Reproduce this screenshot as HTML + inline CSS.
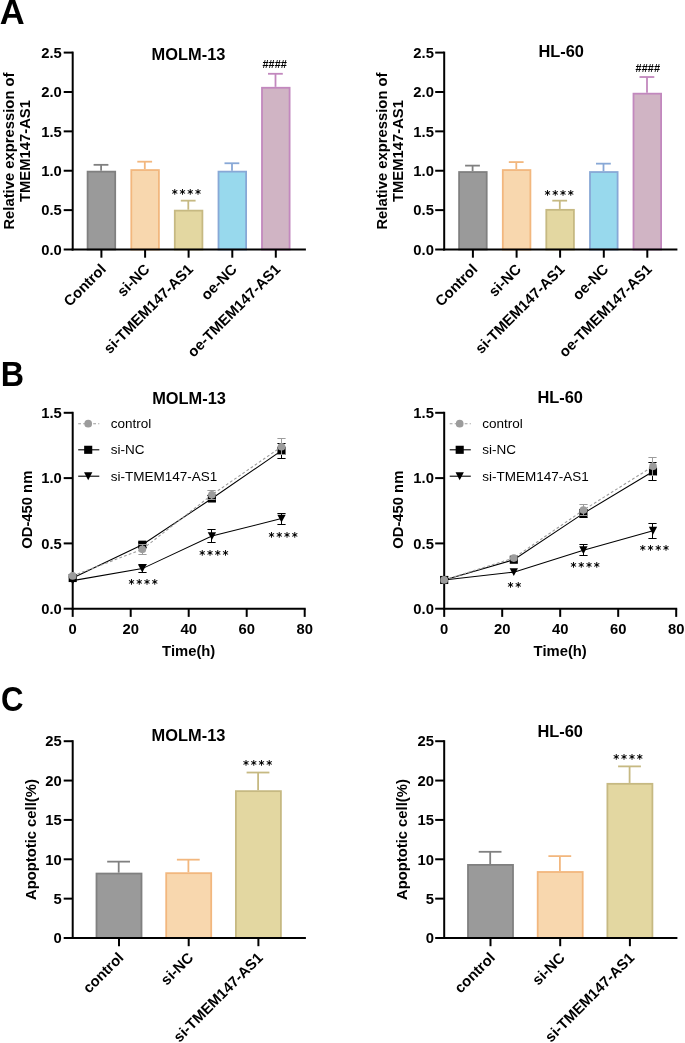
<!DOCTYPE html>
<html lang="en"><head><meta charset="utf-8"><title>Figure</title>
<style>html,body{margin:0;padding:0;background:#fff}svg{display:block}</style></head>
<body>
<svg width="685" height="1043" viewBox="0 0 685 1043" font-family='"Liberation Sans", Arial, Helvetica, sans-serif' fill="#000">
<rect width="685" height="1043" fill="#fff"/>
<text font-size="34.5" font-weight="bold" transform="translate(-0.13 23.8) scale(1.0 1)">A</text>
<text font-size="34.5" font-weight="bold" transform="translate(0.71 385.7) scale(0.935 1)">B</text>
<text font-size="35.2" font-weight="bold" transform="translate(0.88 711.2) scale(0.885 1)">C</text>
<g transform="translate(0.00 0)">
<line x1="101.10" y1="170.74" x2="101.10" y2="164.83" stroke="#808080" stroke-width="1.8"/>
<line x1="93.60" y1="164.83" x2="108.40" y2="164.83" stroke="#808080" stroke-width="1.8"/>
<rect x="87.60" y="171.64" width="27.60" height="77.86" fill="#9a9a9a" stroke="#808080" stroke-width="1.8"/>
<line x1="144.80" y1="169.16" x2="144.80" y2="161.68" stroke="#f2b77e" stroke-width="1.8"/>
<line x1="137.30" y1="161.68" x2="152.10" y2="161.68" stroke="#f2b77e" stroke-width="1.8"/>
<rect x="131.30" y="170.06" width="27.60" height="79.44" fill="#f8d7ae" stroke="#f2b77e" stroke-width="1.8"/>
<line x1="188.30" y1="209.73" x2="188.30" y2="200.67" stroke="#c6b982" stroke-width="1.8"/>
<line x1="180.80" y1="200.67" x2="195.60" y2="200.67" stroke="#c6b982" stroke-width="1.8"/>
<rect x="174.80" y="210.63" width="27.60" height="38.87" fill="#e3d7a1" stroke="#c6b982" stroke-width="1.8"/>
<line x1="232.00" y1="170.74" x2="232.00" y2="163.26" stroke="#88a8d6" stroke-width="1.8"/>
<line x1="224.50" y1="163.26" x2="239.30" y2="163.26" stroke="#88a8d6" stroke-width="1.8"/>
<rect x="218.50" y="171.64" width="27.60" height="77.86" fill="#98d9ed" stroke="#88a8d6" stroke-width="1.8"/>
<line x1="275.50" y1="86.86" x2="275.50" y2="73.79" stroke="#c288be" stroke-width="1.8"/>
<line x1="268.00" y1="73.79" x2="282.80" y2="73.79" stroke="#c288be" stroke-width="1.8"/>
<rect x="262.00" y="87.76" width="27.60" height="161.74" fill="#d0b4c4" stroke="#c288be" stroke-width="1.8"/>
<line x1="72.70" y1="51.60" x2="72.70" y2="250.50" stroke="#000" stroke-width="2"/>
<line x1="71.70" y1="249.50" x2="305.90" y2="249.50" stroke="#000" stroke-width="2"/>
<line x1="63.70" y1="249.50" x2="72.70" y2="249.50" stroke="#000" stroke-width="2"/>
<text x="61.80" y="254.75" font-size="14.8" font-weight="bold" text-anchor="end">0.0</text>
<line x1="63.70" y1="210.12" x2="72.70" y2="210.12" stroke="#000" stroke-width="2"/>
<text x="61.80" y="215.37" font-size="14.8" font-weight="bold" text-anchor="end">0.5</text>
<line x1="63.70" y1="170.74" x2="72.70" y2="170.74" stroke="#000" stroke-width="2"/>
<text x="61.80" y="175.99" font-size="14.8" font-weight="bold" text-anchor="end">1.0</text>
<line x1="63.70" y1="131.36" x2="72.70" y2="131.36" stroke="#000" stroke-width="2"/>
<text x="61.80" y="136.61" font-size="14.8" font-weight="bold" text-anchor="end">1.5</text>
<line x1="63.70" y1="91.98" x2="72.70" y2="91.98" stroke="#000" stroke-width="2"/>
<text x="61.80" y="97.23" font-size="14.8" font-weight="bold" text-anchor="end">2.0</text>
<line x1="63.70" y1="52.60" x2="72.70" y2="52.60" stroke="#000" stroke-width="2"/>
<text x="61.80" y="57.85" font-size="14.8" font-weight="bold" text-anchor="end">2.5</text>
<line x1="101.40" y1="249.50" x2="101.40" y2="257.70" stroke="#000" stroke-width="2"/>
<text x="106.90" y="270.10" font-size="14.8" font-weight="bold" text-anchor="end" transform="rotate(-45 106.90 270.10)">Control</text>
<line x1="145.10" y1="249.50" x2="145.10" y2="257.70" stroke="#000" stroke-width="2"/>
<text x="150.60" y="270.10" font-size="14.8" font-weight="bold" text-anchor="end" transform="rotate(-45 150.60 270.10)">si-NC</text>
<line x1="188.60" y1="249.50" x2="188.60" y2="257.70" stroke="#000" stroke-width="2"/>
<text x="194.10" y="270.10" font-size="14.8" font-weight="bold" text-anchor="end" transform="rotate(-45 194.10 270.10)">si-TMEM147-AS1</text>
<line x1="232.30" y1="249.50" x2="232.30" y2="257.70" stroke="#000" stroke-width="2"/>
<text x="237.80" y="270.10" font-size="14.8" font-weight="bold" text-anchor="end" transform="rotate(-45 237.80 270.10)">oe-NC</text>
<line x1="275.80" y1="249.50" x2="275.80" y2="257.70" stroke="#000" stroke-width="2"/>
<text x="281.30" y="270.10" font-size="14.8" font-weight="bold" text-anchor="end" transform="rotate(-45 281.30 270.10)">oe-TMEM147-AS1</text>
<text x="188.50" y="60.20" font-size="16.4" font-weight="bold" text-anchor="middle">MOLM-13</text>
<text font-size="14.8" font-weight="bold" text-anchor="middle" transform="translate(13.50 151.05) rotate(-90)"><tspan x="0" y="0">Relative expression of</tspan><tspan x="0" y="16.5">TMEM147-AS1</tspan></text>
<text x="171.74" y="198.27" font-family='"DejaVu Sans", "Liberation Sans", sans-serif' font-size="11.5" font-weight="bold" text-anchor="start" letter-spacing="1.76">****</text>
<text x="274.70" y="68.40" font-size="11" font-weight="bold" text-anchor="middle">####</text>
</g>
<g transform="translate(371.50 0)">
<line x1="101.10" y1="171.13" x2="101.10" y2="165.62" stroke="#808080" stroke-width="1.8"/>
<line x1="93.60" y1="165.62" x2="108.40" y2="165.62" stroke="#808080" stroke-width="1.8"/>
<rect x="87.60" y="172.03" width="27.60" height="77.47" fill="#9a9a9a" stroke="#808080" stroke-width="1.8"/>
<line x1="144.80" y1="169.16" x2="144.80" y2="162.08" stroke="#f2b77e" stroke-width="1.8"/>
<line x1="137.30" y1="162.08" x2="152.10" y2="162.08" stroke="#f2b77e" stroke-width="1.8"/>
<rect x="131.30" y="170.06" width="27.60" height="79.44" fill="#f8d7ae" stroke="#f2b77e" stroke-width="1.8"/>
<line x1="188.30" y1="208.94" x2="188.30" y2="200.67" stroke="#c6b982" stroke-width="1.8"/>
<line x1="180.80" y1="200.67" x2="195.60" y2="200.67" stroke="#c6b982" stroke-width="1.8"/>
<rect x="174.80" y="209.84" width="27.60" height="39.66" fill="#e3d7a1" stroke="#c6b982" stroke-width="1.8"/>
<line x1="232.00" y1="171.13" x2="232.00" y2="163.65" stroke="#88a8d6" stroke-width="1.8"/>
<line x1="224.50" y1="163.65" x2="239.30" y2="163.65" stroke="#88a8d6" stroke-width="1.8"/>
<rect x="218.50" y="172.03" width="27.60" height="77.47" fill="#98d9ed" stroke="#88a8d6" stroke-width="1.8"/>
<line x1="275.50" y1="92.77" x2="275.50" y2="77.02" stroke="#c288be" stroke-width="1.8"/>
<line x1="268.00" y1="77.02" x2="282.80" y2="77.02" stroke="#c288be" stroke-width="1.8"/>
<rect x="262.00" y="93.67" width="27.60" height="155.83" fill="#d0b4c4" stroke="#c288be" stroke-width="1.8"/>
<line x1="72.70" y1="51.60" x2="72.70" y2="250.50" stroke="#000" stroke-width="2"/>
<line x1="71.70" y1="249.50" x2="305.90" y2="249.50" stroke="#000" stroke-width="2"/>
<line x1="63.70" y1="249.50" x2="72.70" y2="249.50" stroke="#000" stroke-width="2"/>
<text x="62.40" y="254.75" font-size="14.8" font-weight="bold" text-anchor="end">0.0</text>
<line x1="63.70" y1="210.12" x2="72.70" y2="210.12" stroke="#000" stroke-width="2"/>
<text x="62.40" y="215.37" font-size="14.8" font-weight="bold" text-anchor="end">0.5</text>
<line x1="63.70" y1="170.74" x2="72.70" y2="170.74" stroke="#000" stroke-width="2"/>
<text x="62.40" y="175.99" font-size="14.8" font-weight="bold" text-anchor="end">1.0</text>
<line x1="63.70" y1="131.36" x2="72.70" y2="131.36" stroke="#000" stroke-width="2"/>
<text x="62.40" y="136.61" font-size="14.8" font-weight="bold" text-anchor="end">1.5</text>
<line x1="63.70" y1="91.98" x2="72.70" y2="91.98" stroke="#000" stroke-width="2"/>
<text x="62.40" y="97.23" font-size="14.8" font-weight="bold" text-anchor="end">2.0</text>
<line x1="63.70" y1="52.60" x2="72.70" y2="52.60" stroke="#000" stroke-width="2"/>
<text x="62.40" y="57.85" font-size="14.8" font-weight="bold" text-anchor="end">2.5</text>
<line x1="101.40" y1="249.50" x2="101.40" y2="257.70" stroke="#000" stroke-width="2"/>
<text x="106.90" y="270.10" font-size="14.8" font-weight="bold" text-anchor="end" transform="rotate(-45 106.90 270.10)">Control</text>
<line x1="145.10" y1="249.50" x2="145.10" y2="257.70" stroke="#000" stroke-width="2"/>
<text x="150.60" y="270.10" font-size="14.8" font-weight="bold" text-anchor="end" transform="rotate(-45 150.60 270.10)">si-NC</text>
<line x1="188.60" y1="249.50" x2="188.60" y2="257.70" stroke="#000" stroke-width="2"/>
<text x="194.10" y="270.10" font-size="14.8" font-weight="bold" text-anchor="end" transform="rotate(-45 194.10 270.10)">si-TMEM147-AS1</text>
<line x1="232.30" y1="249.50" x2="232.30" y2="257.70" stroke="#000" stroke-width="2"/>
<text x="237.80" y="270.10" font-size="14.8" font-weight="bold" text-anchor="end" transform="rotate(-45 237.80 270.10)">oe-NC</text>
<line x1="275.80" y1="249.50" x2="275.80" y2="257.70" stroke="#000" stroke-width="2"/>
<text x="281.30" y="270.10" font-size="14.8" font-weight="bold" text-anchor="end" transform="rotate(-45 281.30 270.10)">oe-TMEM147-AS1</text>
<text x="189.70" y="57.30" font-size="16.4" font-weight="bold" text-anchor="middle">HL-60</text>
<text font-size="14.8" font-weight="bold" text-anchor="middle" transform="translate(15.00 151.05) rotate(-90)"><tspan x="0" y="0">Relative expression of</tspan><tspan x="0" y="16.5">TMEM147-AS1</tspan></text>
<text x="172.94" y="199.27" font-family='"DejaVu Sans", "Liberation Sans", sans-serif' font-size="11.5" font-weight="bold" text-anchor="start" letter-spacing="1.76">****</text>
<text x="276.30" y="72.40" font-size="11" font-weight="bold" text-anchor="middle">####</text>
</g>
<g transform="translate(0.00 0)">
<line x1="72.70" y1="411.80" x2="72.70" y2="609.70" stroke="#000" stroke-width="2"/>
<line x1="71.70" y1="608.70" x2="305.70" y2="608.70" stroke="#000" stroke-width="2"/>
<line x1="63.70" y1="608.70" x2="72.70" y2="608.70" stroke="#000" stroke-width="2"/>
<text x="61.80" y="613.95" font-size="14.8" font-weight="bold" text-anchor="end">0.0</text>
<line x1="63.70" y1="543.40" x2="72.70" y2="543.40" stroke="#000" stroke-width="2"/>
<text x="61.80" y="548.65" font-size="14.8" font-weight="bold" text-anchor="end">0.5</text>
<line x1="63.70" y1="478.10" x2="72.70" y2="478.10" stroke="#000" stroke-width="2"/>
<text x="61.80" y="483.35" font-size="14.8" font-weight="bold" text-anchor="end">1.0</text>
<line x1="63.70" y1="412.80" x2="72.70" y2="412.80" stroke="#000" stroke-width="2"/>
<text x="61.80" y="418.05" font-size="14.8" font-weight="bold" text-anchor="end">1.5</text>
<line x1="72.70" y1="608.70" x2="72.70" y2="616.90" stroke="#000" stroke-width="2"/>
<text x="72.70" y="633.50" font-size="14.8" font-weight="bold" text-anchor="middle">0</text>
<line x1="130.70" y1="608.70" x2="130.70" y2="616.90" stroke="#000" stroke-width="2"/>
<text x="130.70" y="633.50" font-size="14.8" font-weight="bold" text-anchor="middle">20</text>
<line x1="188.70" y1="608.70" x2="188.70" y2="616.90" stroke="#000" stroke-width="2"/>
<text x="188.70" y="633.50" font-size="14.8" font-weight="bold" text-anchor="middle">40</text>
<line x1="246.70" y1="608.70" x2="246.70" y2="616.90" stroke="#000" stroke-width="2"/>
<text x="246.70" y="633.50" font-size="14.8" font-weight="bold" text-anchor="middle">60</text>
<line x1="304.70" y1="608.70" x2="304.70" y2="616.90" stroke="#000" stroke-width="2"/>
<text x="304.70" y="633.50" font-size="14.8" font-weight="bold" text-anchor="middle">80</text>
<text x="189.10" y="404.30" font-size="16.4" font-weight="bold" text-anchor="middle">MOLM-13</text>
<text x="31.50" y="509.75" font-size="14.8" font-weight="bold" text-anchor="middle" transform="rotate(-90 31.50 509.75)">OD-450 nm</text>
<text x="188.70" y="655.50" font-size="14.8" font-weight="bold" text-anchor="middle">Time(h)</text>
<polyline points="72.70,580.62 142.30,568.61 211.90,536.09 281.50,518.59" fill="none" stroke="#000" stroke-width="1.05"/>
<polygon points="68.55,576.67 76.85,576.67 72.70,584.57" fill="#000"/>
<line x1="142.50" y1="564.50" x2="142.50" y2="572.50" stroke="#000" stroke-width="1.0"/>
<line x1="138.40" y1="564.50" x2="146.60" y2="564.50" stroke="#000" stroke-width="1.0"/>
<line x1="138.40" y1="572.50" x2="146.60" y2="572.50" stroke="#000" stroke-width="1.0"/>
<polygon points="138.15,564.66 146.45,564.66 142.30,572.56" fill="#000"/>
<line x1="211.50" y1="529.50" x2="211.50" y2="542.50" stroke="#000" stroke-width="1.0"/>
<line x1="207.40" y1="529.50" x2="215.60" y2="529.50" stroke="#000" stroke-width="1.0"/>
<line x1="207.40" y1="542.50" x2="215.60" y2="542.50" stroke="#000" stroke-width="1.0"/>
<polygon points="207.75,532.14 216.05,532.14 211.90,540.04" fill="#000"/>
<line x1="281.50" y1="513.50" x2="281.50" y2="524.50" stroke="#000" stroke-width="1.0"/>
<line x1="277.40" y1="513.50" x2="285.60" y2="513.50" stroke="#000" stroke-width="1.0"/>
<line x1="277.40" y1="524.50" x2="285.60" y2="524.50" stroke="#000" stroke-width="1.0"/>
<polygon points="277.35,514.64 285.65,514.64 281.50,522.54" fill="#000"/>
<polyline points="72.70,578.01 142.30,544.71 211.90,498.47 281.50,450.67" fill="none" stroke="#000" stroke-width="1.05"/>
<rect x="68.65" y="573.96" width="8.1" height="8.1" fill="#000"/>
<line x1="142.50" y1="542.50" x2="142.50" y2="547.50" stroke="#000" stroke-width="1.0"/>
<line x1="138.40" y1="542.50" x2="146.60" y2="542.50" stroke="#000" stroke-width="1.0"/>
<line x1="138.40" y1="547.50" x2="146.60" y2="547.50" stroke="#000" stroke-width="1.0"/>
<rect x="138.25" y="540.66" width="8.1" height="8.1" fill="#000"/>
<line x1="211.50" y1="495.50" x2="211.50" y2="501.50" stroke="#000" stroke-width="1.0"/>
<line x1="207.40" y1="495.50" x2="215.60" y2="495.50" stroke="#000" stroke-width="1.0"/>
<line x1="207.40" y1="501.50" x2="215.60" y2="501.50" stroke="#000" stroke-width="1.0"/>
<rect x="207.85" y="494.42" width="8.1" height="8.1" fill="#000"/>
<line x1="281.50" y1="443.50" x2="281.50" y2="458.50" stroke="#000" stroke-width="1.0"/>
<line x1="277.40" y1="443.50" x2="285.60" y2="443.50" stroke="#000" stroke-width="1.0"/>
<line x1="277.40" y1="458.50" x2="285.60" y2="458.50" stroke="#000" stroke-width="1.0"/>
<rect x="277.45" y="446.62" width="8.1" height="8.1" fill="#000"/>
<polyline points="72.70,575.92 142.30,549.28 211.90,494.82 281.50,446.76" fill="none" stroke="#9c9c9c" stroke-width="1.1" stroke-dasharray="2.8 2.2"/>
<circle cx="72.70" cy="575.92" r="3.85" fill="#9c9c9c"/>
<line x1="142.50" y1="544.50" x2="142.50" y2="554.50" stroke="#9c9c9c" stroke-width="1.0"/>
<line x1="138.40" y1="544.50" x2="146.60" y2="544.50" stroke="#9c9c9c" stroke-width="1.0"/>
<line x1="138.40" y1="554.50" x2="146.60" y2="554.50" stroke="#9c9c9c" stroke-width="1.0"/>
<circle cx="142.30" cy="549.28" r="3.85" fill="#9c9c9c"/>
<line x1="211.50" y1="490.50" x2="211.50" y2="499.50" stroke="#9c9c9c" stroke-width="1.0"/>
<line x1="207.40" y1="490.50" x2="215.60" y2="490.50" stroke="#9c9c9c" stroke-width="1.0"/>
<line x1="207.40" y1="499.50" x2="215.60" y2="499.50" stroke="#9c9c9c" stroke-width="1.0"/>
<circle cx="211.90" cy="494.82" r="3.85" fill="#9c9c9c"/>
<line x1="281.50" y1="438.50" x2="281.50" y2="454.50" stroke="#9c9c9c" stroke-width="1.0"/>
<line x1="277.40" y1="438.50" x2="285.60" y2="438.50" stroke="#9c9c9c" stroke-width="1.0"/>
<line x1="277.40" y1="454.50" x2="285.60" y2="454.50" stroke="#9c9c9c" stroke-width="1.0"/>
<circle cx="281.50" cy="446.76" r="3.85" fill="#9c9c9c"/>
<line x1="78.20" y1="423.70" x2="99.30" y2="423.70" stroke="#9c9c9c" stroke-width="1.1" stroke-dasharray="2.8 2.2"/>
<circle cx="88.20" cy="423.70" r="3.85" fill="#9c9c9c"/>
<text x="110.80" y="428.20" font-size="13.5" font-weight="normal" text-anchor="start">control</text>
<line x1="78.20" y1="449.80" x2="99.30" y2="449.80" stroke="#000" stroke-width="1.1"/>
<rect x="84.15" y="445.75" width="8.1" height="8.1" fill="#000"/>
<text x="110.80" y="454.30" font-size="13.5" font-weight="normal" text-anchor="start">si-NC</text>
<line x1="78.20" y1="476.20" x2="99.30" y2="476.20" stroke="#000" stroke-width="1.1"/>
<polygon points="84.05,472.25 92.35,472.25 88.20,480.15" fill="#000"/>
<text x="110.80" y="480.70" font-size="13.5" font-weight="normal" text-anchor="start">si-TMEM147-AS1</text>
<text x="128.54" y="588.37" font-family='"DejaVu Sans", "Liberation Sans", sans-serif' font-size="11.5" font-weight="bold" text-anchor="start" letter-spacing="1.76">****</text>
<text x="199.14" y="559.37" font-family='"DejaVu Sans", "Liberation Sans", sans-serif' font-size="11.5" font-weight="bold" text-anchor="start" letter-spacing="1.76">****</text>
<text x="268.39" y="541.27" font-family='"DejaVu Sans", "Liberation Sans", sans-serif' font-size="11.5" font-weight="bold" text-anchor="start" letter-spacing="1.76">****</text>
</g>
<g transform="translate(371.50 0)">
<line x1="72.70" y1="411.80" x2="72.70" y2="609.70" stroke="#000" stroke-width="2"/>
<line x1="71.70" y1="608.70" x2="305.70" y2="608.70" stroke="#000" stroke-width="2"/>
<line x1="63.70" y1="608.70" x2="72.70" y2="608.70" stroke="#000" stroke-width="2"/>
<text x="62.40" y="613.95" font-size="14.8" font-weight="bold" text-anchor="end">0.0</text>
<line x1="63.70" y1="543.40" x2="72.70" y2="543.40" stroke="#000" stroke-width="2"/>
<text x="62.40" y="548.65" font-size="14.8" font-weight="bold" text-anchor="end">0.5</text>
<line x1="63.70" y1="478.10" x2="72.70" y2="478.10" stroke="#000" stroke-width="2"/>
<text x="62.40" y="483.35" font-size="14.8" font-weight="bold" text-anchor="end">1.0</text>
<line x1="63.70" y1="412.80" x2="72.70" y2="412.80" stroke="#000" stroke-width="2"/>
<text x="62.40" y="418.05" font-size="14.8" font-weight="bold" text-anchor="end">1.5</text>
<line x1="72.70" y1="608.70" x2="72.70" y2="616.90" stroke="#000" stroke-width="2"/>
<text x="72.70" y="633.50" font-size="14.8" font-weight="bold" text-anchor="middle">0</text>
<line x1="130.70" y1="608.70" x2="130.70" y2="616.90" stroke="#000" stroke-width="2"/>
<text x="130.70" y="633.50" font-size="14.8" font-weight="bold" text-anchor="middle">20</text>
<line x1="188.70" y1="608.70" x2="188.70" y2="616.90" stroke="#000" stroke-width="2"/>
<text x="188.70" y="633.50" font-size="14.8" font-weight="bold" text-anchor="middle">40</text>
<line x1="246.70" y1="608.70" x2="246.70" y2="616.90" stroke="#000" stroke-width="2"/>
<text x="246.70" y="633.50" font-size="14.8" font-weight="bold" text-anchor="middle">60</text>
<line x1="304.70" y1="608.70" x2="304.70" y2="616.90" stroke="#000" stroke-width="2"/>
<text x="304.70" y="633.50" font-size="14.8" font-weight="bold" text-anchor="middle">80</text>
<text x="188.70" y="403.30" font-size="16.4" font-weight="bold" text-anchor="middle">HL-60</text>
<text x="31.50" y="509.75" font-size="14.8" font-weight="bold" text-anchor="middle" transform="rotate(-90 31.50 509.75)">OD-450 nm</text>
<text x="188.70" y="655.50" font-size="14.8" font-weight="bold" text-anchor="middle">Time(h)</text>
<polyline points="72.70,579.97 142.30,572.13 211.90,550.19 281.50,530.73" fill="none" stroke="#000" stroke-width="1.05"/>
<polygon points="68.55,576.02 76.85,576.02 72.70,583.92" fill="#000"/>
<polygon points="138.15,568.18 146.45,568.18 142.30,576.08" fill="#000"/>
<line x1="212.00" y1="544.50" x2="212.00" y2="555.50" stroke="#000" stroke-width="1.0"/>
<line x1="207.90" y1="544.50" x2="216.10" y2="544.50" stroke="#000" stroke-width="1.0"/>
<line x1="207.90" y1="555.50" x2="216.10" y2="555.50" stroke="#000" stroke-width="1.0"/>
<polygon points="207.75,546.24 216.05,546.24 211.90,554.14" fill="#000"/>
<line x1="281.00" y1="523.50" x2="281.00" y2="538.50" stroke="#000" stroke-width="1.0"/>
<line x1="276.90" y1="523.50" x2="285.10" y2="523.50" stroke="#000" stroke-width="1.0"/>
<line x1="276.90" y1="538.50" x2="285.10" y2="538.50" stroke="#000" stroke-width="1.0"/>
<polygon points="277.35,526.78 285.65,526.78 281.50,534.68" fill="#000"/>
<polyline points="72.70,579.97 142.30,559.73 211.90,513.36 281.50,471.57" fill="none" stroke="#000" stroke-width="1.05"/>
<rect x="68.65" y="575.92" width="8.1" height="8.1" fill="#000"/>
<rect x="138.25" y="555.68" width="8.1" height="8.1" fill="#000"/>
<line x1="212.00" y1="509.50" x2="212.00" y2="517.50" stroke="#000" stroke-width="1.0"/>
<line x1="207.90" y1="509.50" x2="216.10" y2="509.50" stroke="#000" stroke-width="1.0"/>
<line x1="207.90" y1="517.50" x2="216.10" y2="517.50" stroke="#000" stroke-width="1.0"/>
<rect x="207.85" y="509.31" width="8.1" height="8.1" fill="#000"/>
<line x1="281.00" y1="462.50" x2="281.00" y2="480.50" stroke="#000" stroke-width="1.0"/>
<line x1="276.90" y1="462.50" x2="285.10" y2="462.50" stroke="#000" stroke-width="1.0"/>
<line x1="276.90" y1="480.50" x2="285.10" y2="480.50" stroke="#000" stroke-width="1.0"/>
<rect x="277.45" y="467.52" width="8.1" height="8.1" fill="#000"/>
<polyline points="72.70,579.97 142.30,558.03 211.90,510.10 281.50,466.35" fill="none" stroke="#9c9c9c" stroke-width="1.1" stroke-dasharray="2.8 2.2"/>
<circle cx="72.70" cy="579.97" r="3.85" fill="#9c9c9c"/>
<circle cx="142.30" cy="558.03" r="3.85" fill="#9c9c9c"/>
<line x1="212.00" y1="504.50" x2="212.00" y2="515.50" stroke="#9c9c9c" stroke-width="1.0"/>
<line x1="207.90" y1="504.50" x2="216.10" y2="504.50" stroke="#9c9c9c" stroke-width="1.0"/>
<line x1="207.90" y1="515.50" x2="216.10" y2="515.50" stroke="#9c9c9c" stroke-width="1.0"/>
<circle cx="211.90" cy="510.10" r="3.85" fill="#9c9c9c"/>
<line x1="281.00" y1="457.50" x2="281.00" y2="475.50" stroke="#9c9c9c" stroke-width="1.0"/>
<line x1="276.90" y1="457.50" x2="285.10" y2="457.50" stroke="#9c9c9c" stroke-width="1.0"/>
<line x1="276.90" y1="475.50" x2="285.10" y2="475.50" stroke="#9c9c9c" stroke-width="1.0"/>
<circle cx="281.50" cy="466.35" r="3.85" fill="#9c9c9c"/>
<line x1="78.20" y1="423.70" x2="99.30" y2="423.70" stroke="#9c9c9c" stroke-width="1.1" stroke-dasharray="2.8 2.2"/>
<circle cx="88.20" cy="423.70" r="3.85" fill="#9c9c9c"/>
<text x="110.80" y="428.20" font-size="13.5" font-weight="normal" text-anchor="start">control</text>
<line x1="78.20" y1="449.80" x2="99.30" y2="449.80" stroke="#000" stroke-width="1.1"/>
<rect x="84.15" y="445.75" width="8.1" height="8.1" fill="#000"/>
<text x="110.80" y="454.30" font-size="13.5" font-weight="normal" text-anchor="start">si-NC</text>
<line x1="78.20" y1="476.20" x2="99.30" y2="476.20" stroke="#000" stroke-width="1.1"/>
<polygon points="84.05,472.25 92.35,472.25 88.20,480.15" fill="#000"/>
<text x="110.80" y="480.70" font-size="13.5" font-weight="normal" text-anchor="start">si-TMEM147-AS1</text>
<text x="136.01" y="590.87" font-family='"DejaVu Sans", "Liberation Sans", sans-serif' font-size="11.5" font-weight="bold" text-anchor="start" letter-spacing="1.76">**</text>
<text x="198.94" y="570.67" font-family='"DejaVu Sans", "Liberation Sans", sans-serif' font-size="11.5" font-weight="bold" text-anchor="start" letter-spacing="1.76">****</text>
<text x="268.24" y="553.67" font-family='"DejaVu Sans", "Liberation Sans", sans-serif' font-size="11.5" font-weight="bold" text-anchor="start" letter-spacing="1.76">****</text>
</g>
<g transform="translate(0.00 0)">
<line x1="118.70" y1="872.66" x2="118.70" y2="861.64" stroke="#808080" stroke-width="1.8"/>
<line x1="107.20" y1="861.64" x2="130.00" y2="861.64" stroke="#808080" stroke-width="1.8"/>
<rect x="96.50" y="873.56" width="45.00" height="64.44" fill="#9a9a9a" stroke="#808080" stroke-width="1.8"/>
<line x1="188.40" y1="872.27" x2="188.40" y2="859.67" stroke="#f2b77e" stroke-width="1.8"/>
<line x1="176.90" y1="859.67" x2="199.70" y2="859.67" stroke="#f2b77e" stroke-width="1.8"/>
<rect x="166.20" y="873.17" width="45.00" height="64.83" fill="#f8d7ae" stroke="#f2b77e" stroke-width="1.8"/>
<line x1="258.10" y1="790.24" x2="258.10" y2="772.53" stroke="#c6b982" stroke-width="1.8"/>
<line x1="246.60" y1="772.53" x2="269.40" y2="772.53" stroke="#c6b982" stroke-width="1.8"/>
<rect x="235.90" y="791.14" width="45.00" height="146.86" fill="#e3d7a1" stroke="#c6b982" stroke-width="1.8"/>
<line x1="72.70" y1="740.20" x2="72.70" y2="939.00" stroke="#000" stroke-width="2"/>
<line x1="71.70" y1="938.00" x2="305.90" y2="938.00" stroke="#000" stroke-width="2"/>
<line x1="63.70" y1="938.00" x2="72.70" y2="938.00" stroke="#000" stroke-width="2"/>
<text x="61.80" y="943.25" font-size="14.8" font-weight="bold" text-anchor="end">0</text>
<line x1="63.70" y1="898.64" x2="72.70" y2="898.64" stroke="#000" stroke-width="2"/>
<text x="61.80" y="903.89" font-size="14.8" font-weight="bold" text-anchor="end">5</text>
<line x1="63.70" y1="859.28" x2="72.70" y2="859.28" stroke="#000" stroke-width="2"/>
<text x="61.80" y="864.53" font-size="14.8" font-weight="bold" text-anchor="end">10</text>
<line x1="63.70" y1="819.92" x2="72.70" y2="819.92" stroke="#000" stroke-width="2"/>
<text x="61.80" y="825.17" font-size="14.8" font-weight="bold" text-anchor="end">15</text>
<line x1="63.70" y1="780.56" x2="72.70" y2="780.56" stroke="#000" stroke-width="2"/>
<text x="61.80" y="785.81" font-size="14.8" font-weight="bold" text-anchor="end">20</text>
<line x1="63.70" y1="741.20" x2="72.70" y2="741.20" stroke="#000" stroke-width="2"/>
<text x="61.80" y="746.45" font-size="14.8" font-weight="bold" text-anchor="end">25</text>
<line x1="119.00" y1="938.00" x2="119.00" y2="946.20" stroke="#000" stroke-width="2"/>
<text x="124.50" y="958.60" font-size="14.8" font-weight="bold" text-anchor="end" transform="rotate(-45 124.50 958.60)">control</text>
<line x1="188.70" y1="938.00" x2="188.70" y2="946.20" stroke="#000" stroke-width="2"/>
<text x="194.20" y="958.60" font-size="14.8" font-weight="bold" text-anchor="end" transform="rotate(-45 194.20 958.60)">si-NC</text>
<line x1="258.40" y1="938.00" x2="258.40" y2="946.20" stroke="#000" stroke-width="2"/>
<text x="263.90" y="958.60" font-size="14.8" font-weight="bold" text-anchor="end" transform="rotate(-45 263.90 958.60)">si-TMEM147-AS1</text>
<text x="188.50" y="740.80" font-size="16.4" font-weight="bold" text-anchor="middle">MOLM-13</text>
<text x="36.00" y="839.60" font-size="14.8" font-weight="bold" text-anchor="middle" transform="rotate(-90 36.00 839.60)">Apoptotic cell(%)</text>
<text x="243.04" y="768.57" font-family='"DejaVu Sans", "Liberation Sans", sans-serif' font-size="11.5" font-weight="bold" text-anchor="start" letter-spacing="1.76">****</text>
</g>
<g transform="translate(371.50 0)">
<line x1="118.70" y1="864.00" x2="118.70" y2="851.80" stroke="#808080" stroke-width="1.8"/>
<line x1="107.20" y1="851.80" x2="130.00" y2="851.80" stroke="#808080" stroke-width="1.8"/>
<rect x="96.50" y="864.90" width="45.00" height="73.10" fill="#9a9a9a" stroke="#808080" stroke-width="1.8"/>
<line x1="188.40" y1="871.09" x2="188.40" y2="856.13" stroke="#f2b77e" stroke-width="1.8"/>
<line x1="176.90" y1="856.13" x2="199.70" y2="856.13" stroke="#f2b77e" stroke-width="1.8"/>
<rect x="166.20" y="871.99" width="45.00" height="66.01" fill="#f8d7ae" stroke="#f2b77e" stroke-width="1.8"/>
<line x1="258.10" y1="782.92" x2="258.10" y2="766.39" stroke="#c6b982" stroke-width="1.8"/>
<line x1="246.60" y1="766.39" x2="269.40" y2="766.39" stroke="#c6b982" stroke-width="1.8"/>
<rect x="235.90" y="783.82" width="45.00" height="154.18" fill="#e3d7a1" stroke="#c6b982" stroke-width="1.8"/>
<line x1="72.70" y1="740.20" x2="72.70" y2="939.00" stroke="#000" stroke-width="2"/>
<line x1="71.70" y1="938.00" x2="305.90" y2="938.00" stroke="#000" stroke-width="2"/>
<line x1="63.70" y1="938.00" x2="72.70" y2="938.00" stroke="#000" stroke-width="2"/>
<text x="62.50" y="943.25" font-size="14.8" font-weight="bold" text-anchor="end">0</text>
<line x1="63.70" y1="898.64" x2="72.70" y2="898.64" stroke="#000" stroke-width="2"/>
<text x="62.50" y="903.89" font-size="14.8" font-weight="bold" text-anchor="end">5</text>
<line x1="63.70" y1="859.28" x2="72.70" y2="859.28" stroke="#000" stroke-width="2"/>
<text x="62.50" y="864.53" font-size="14.8" font-weight="bold" text-anchor="end">10</text>
<line x1="63.70" y1="819.92" x2="72.70" y2="819.92" stroke="#000" stroke-width="2"/>
<text x="62.50" y="825.17" font-size="14.8" font-weight="bold" text-anchor="end">15</text>
<line x1="63.70" y1="780.56" x2="72.70" y2="780.56" stroke="#000" stroke-width="2"/>
<text x="62.50" y="785.81" font-size="14.8" font-weight="bold" text-anchor="end">20</text>
<line x1="63.70" y1="741.20" x2="72.70" y2="741.20" stroke="#000" stroke-width="2"/>
<text x="62.50" y="746.45" font-size="14.8" font-weight="bold" text-anchor="end">25</text>
<line x1="119.00" y1="938.00" x2="119.00" y2="946.20" stroke="#000" stroke-width="2"/>
<text x="124.50" y="958.60" font-size="14.8" font-weight="bold" text-anchor="end" transform="rotate(-45 124.50 958.60)">control</text>
<line x1="188.70" y1="938.00" x2="188.70" y2="946.20" stroke="#000" stroke-width="2"/>
<text x="194.20" y="958.60" font-size="14.8" font-weight="bold" text-anchor="end" transform="rotate(-45 194.20 958.60)">si-NC</text>
<line x1="258.40" y1="938.00" x2="258.40" y2="946.20" stroke="#000" stroke-width="2"/>
<text x="263.90" y="958.60" font-size="14.8" font-weight="bold" text-anchor="end" transform="rotate(-45 263.90 958.60)">si-TMEM147-AS1</text>
<text x="188.70" y="737.10" font-size="16.4" font-weight="bold" text-anchor="middle">HL-60</text>
<text x="36.00" y="839.60" font-size="14.8" font-weight="bold" text-anchor="middle" transform="rotate(-90 36.00 839.60)">Apoptotic cell(%)</text>
<text x="241.84" y="762.67" font-family='"DejaVu Sans", "Liberation Sans", sans-serif' font-size="11.5" font-weight="bold" text-anchor="start" letter-spacing="1.76">****</text>
</g>
</svg>
</body></html>
